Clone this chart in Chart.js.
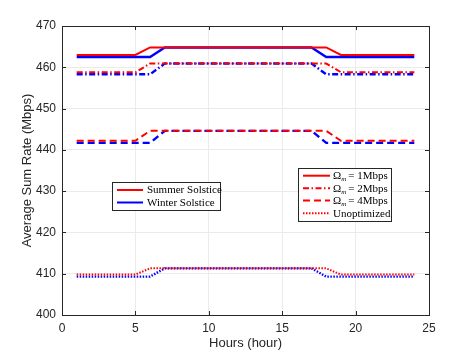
<!DOCTYPE html>
<html><head><meta charset="utf-8">
<script src="https://cdn.jsdelivr.net/npm/chart.js@4"></script>
<style>html,body{margin:0;padding:0;background:#fff}</style>
</head><body>
<canvas id="c" width="474" height="355"></canvas>
<script>
const hours = [1,2,3,4,5,6,7,8,9,10,11,12,13,14,15,16,17,18,19,20,21,22,23,24];
const xTicks = [0,5,10,15,20,25];
const yTicks = [400,410,420,430,440,450,460,470];
// Summer: low 1-5, high 6-18, low 19-24 ; Winter: low 1-6, high 7-17, low 18-24
const summer1Mbps = [463.0,463.0,463.0,463.0,463.0,464.8,464.8,464.8,464.8,464.8,464.8,464.8,464.8,464.8,464.8,464.8,464.8,464.8,463.0,463.0,463.0,463.0,463.0,463.0];
const winter1Mbps = [462.5,462.5,462.5,462.5,462.5,462.5,464.8,464.8,464.8,464.8,464.8,464.8,464.8,464.8,464.8,464.8,464.8,462.5,462.5,462.5,462.5,462.5,462.5,462.5];
const summer2Mbps = [458.8,458.8,458.8,458.8,458.8,460.9,460.9,460.9,460.9,460.9,460.9,460.9,460.9,460.9,460.9,460.9,460.9,460.9,458.8,458.8,458.8,458.8,458.8,458.8];
const winter2Mbps = [458.3,458.3,458.3,458.3,458.3,458.3,460.9,460.9,460.9,460.9,460.9,460.9,460.9,460.9,460.9,460.9,460.9,458.3,458.3,458.3,458.3,458.3,458.3,458.3];
const summer4Mbps = [442.2,442.2,442.2,442.2,442.2,444.6,444.6,444.6,444.6,444.6,444.6,444.6,444.6,444.6,444.6,444.6,444.6,444.6,442.2,442.2,442.2,442.2,442.2,442.2];
const winter4Mbps = [441.7,441.7,441.7,441.7,441.7,441.7,444.6,444.6,444.6,444.6,444.6,444.6,444.6,444.6,444.6,444.6,444.6,441.7,441.7,441.7,441.7,441.7,441.7,441.7];
const summerUnopt = [409.8,409.8,409.8,409.8,409.8,411.3,411.3,411.3,411.3,411.3,411.3,411.3,411.3,411.3,411.3,411.3,411.3,411.3,409.8,409.8,409.8,409.8,409.8,409.8];
const winterUnopt = [409.3,409.3,409.3,409.3,409.3,409.3,411.3,411.3,411.3,411.3,411.3,411.3,411.3,411.3,411.3,411.3,411.3,409.3,409.3,409.3,409.3,409.3,409.3,409.3];
const seasonLegend = ['Summer Solstice','Winter Solstice'];
const rateLegend = ['1Mbps','2Mbps','4Mbps','Unoptimized'];

const RED = '#ff0000', BLUE = '#0000ff';
const DASHDOT = [6,2.5,1.5,2.5], DASHED = [7,4], DOTTED = [1.5,1.5];
function pts(arr){ return hours.map((h,i)=>({x:h,y:arr[i]})); }
function ds(arr,color,dash,w){ return {data:pts(arr),borderColor:color,borderWidth:w,borderDash:dash,pointRadius:0,fill:false,tension:0}; }

const datasets = [
  ds(summer1Mbps,RED,[],2), ds(summer2Mbps,RED,DASHDOT,2), ds(summer4Mbps,RED,DASHED,2), ds(summerUnopt,RED,DOTTED,2),
  ds(winter1Mbps,BLUE,[],2.4), ds(winter2Mbps,BLUE,DASHDOT,2.4), ds(winter4Mbps,BLUE,DASHED,2.4), ds(winterUnopt,BLUE,DOTTED,2.4)
];

const frame = {
  id:'frame',
  afterDraw(chart){
    const ctx = chart.ctx, a = chart.chartArea;
    const xs = chart.scales.x, ys = chart.scales.y;
    ctx.save();
    ctx.strokeStyle = '#262626'; ctx.lineWidth = 1;
    ctx.strokeRect(Math.round(a.left)+0.5, Math.round(a.top)+0.5, Math.round(a.right-a.left), Math.round(a.bottom-a.top));
    ctx.beginPath();
    xTicks.forEach(v=>{ const p=Math.round(xs.getPixelForValue(v))+0.5; ctx.moveTo(p,a.bottom); ctx.lineTo(p,a.bottom-4); ctx.moveTo(p,a.top); ctx.lineTo(p,a.top+4); });
    yTicks.forEach(v=>{ const p=Math.round(ys.getPixelForValue(v))+0.5; ctx.moveTo(a.left,p); ctx.lineTo(a.left+4,p); ctx.moveTo(a.right,p); ctx.lineTo(a.right-4,p); });
    ctx.stroke();

    // Legend 1
    const serif = '"Liberation Serif", "DejaVu Serif", serif';
    ctx.fillStyle='#fff'; ctx.fillRect(112.5,182.5,108,28);
    ctx.strokeStyle='#262626'; ctx.lineWidth=1; ctx.strokeRect(112.5,182.5,108,28);
    [[RED,190],[BLUE,202.5]].forEach(([c,y],i)=>{
      ctx.strokeStyle=c; ctx.lineWidth=2; ctx.setLineDash([]);
      ctx.beginPath(); ctx.moveTo(117,y); ctx.lineTo(143,y); ctx.stroke();
      ctx.fillStyle='#000'; ctx.font='11px '+serif; ctx.textBaseline='middle'; ctx.textAlign='left';
      ctx.fillText(seasonLegend[i],147,y+0.5);
    });
    // Legend 2
    ctx.fillStyle='#fff'; ctx.fillRect(298.5,168.5,93,53);
    ctx.strokeStyle='#262626'; ctx.lineWidth=1; ctx.strokeRect(298.5,168.5,93,53);
    const dashes=[[],DASHDOT,DASHED,DOTTED];
    [175.7,188.3,200.5,213.3].forEach((y,i)=>{
      ctx.strokeStyle=RED; ctx.lineWidth=2; ctx.setLineDash(dashes[i]);
      ctx.beginPath(); ctx.moveTo(303,y); ctx.lineTo(330,y); ctx.stroke();
      ctx.setLineDash([]);
      ctx.fillStyle='#000'; ctx.textBaseline='middle'; ctx.textAlign='left';
      let x=333;
      if(i<3){
        ctx.font='11px '+serif; ctx.fillText('\u03A9',x,y+0.5); x+=ctx.measureText('\u03A9').width;
        ctx.font='italic 7px '+serif; ctx.fillText('m',x,y+3.5); x+=ctx.measureText('m').width+2;
        ctx.font='11px '+serif; ctx.fillText('= '+rateLegend[i],x,y+0.5);
      } else {
        ctx.font='11px '+serif; ctx.fillText(rateLegend[i],x,y+0.5);
      }
    });
    ctx.restore();
  }
};

const sans = '"Liberation Sans", Arial, sans-serif';
new Chart(document.getElementById('c'), {
  type:'line',
  data:{datasets},
  options:{
    responsive:false, animation:false,
    layout:{padding:{top:26,right:45,left:0,bottom:0}},
    plugins:{legend:{display:false},tooltip:{enabled:false}},
    scales:{
      x:{type:'linear',min:0,max:25,
        afterBuildTicks(s){ s.ticks = xTicks.map(v=>({value:v})); },
        afterFit(s){ s.height=40; },
        grid:{color:'#ebebeb',drawTicks:false},
        border:{display:false},
        ticks:{padding:6,color:'#262626',font:{family:sans,size:12}},
        title:{display:true,text:'Hours (hour)',color:'#262626',font:{family:sans,size:13},padding:{top:0,bottom:4}}
      },
      y:{type:'linear',min:400,max:470,
        afterBuildTicks(s){ s.ticks = yTicks.map(v=>({value:v})); },
        afterFit(s){ s.width=62; },
        grid:{color:'#ebebeb',drawTicks:false},
        border:{display:false},
        ticks:{padding:6,color:'#262626',font:{family:sans,size:12}},
        title:{display:true,text:'Average Sum Rate (Mbps)',color:'#262626',font:{family:sans,size:13},padding:{top:20,bottom:0}}
      }
    }
  },
  plugins:[frame]
});
</script>
</body></html>
